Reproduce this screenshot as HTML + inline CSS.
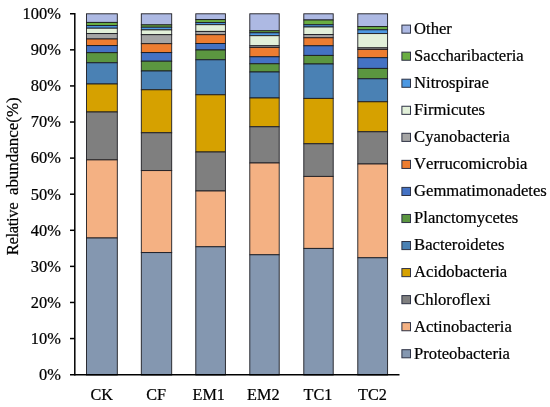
<!DOCTYPE html>
<html><head><meta charset="utf-8"><title>Relative abundance</title>
<style>
html,body{margin:0;padding:0;background:#fff;}
body{width:550px;height:407px;overflow:hidden;}
svg{display:block;}
text{font-family:"Liberation Serif",serif;fill:#000;stroke:#000;stroke-width:0.22px;font-kerning:none;}
.b rect{stroke:#1c1c22;stroke-width:0.9;}
.lg rect{stroke:#2e3244;stroke-width:1;}
.tk{font-size:16.4px;text-anchor:end;}
.xl{font-size:16.2px;text-anchor:middle;}
.lt{font-size:16.6px;}
</style></head><body>
<svg width="550" height="407" viewBox="0 0 550 407">
<rect width="550" height="407" fill="#fff"/>
<g class="b">
<rect x="86.50" y="13.80" width="30.80" height="8.60" fill="#ADB9E3"/>
<rect x="86.50" y="22.40" width="30.80" height="3.20" fill="#6AAE42"/>
<rect x="86.50" y="25.60" width="30.80" height="2.60" fill="#4C98E2"/>
<rect x="86.50" y="28.20" width="30.80" height="5.40" fill="#E2F0D9"/>
<rect x="86.50" y="33.60" width="30.80" height="5.40" fill="#A5A5A5"/>
<rect x="86.50" y="39.00" width="30.80" height="6.60" fill="#ED7D31"/>
<rect x="86.50" y="45.60" width="30.80" height="7.10" fill="#4472C4"/>
<rect x="86.50" y="52.70" width="30.80" height="10.10" fill="#5B9640"/>
<rect x="86.50" y="62.80" width="30.80" height="21.20" fill="#4A81B4"/>
<rect x="86.50" y="84.00" width="30.80" height="28.00" fill="#D6A100"/>
<rect x="86.50" y="112.00" width="30.80" height="47.90" fill="#7F7F7F"/>
<rect x="86.50" y="159.90" width="30.80" height="78.10" fill="#F4B183"/>
<rect x="86.50" y="238.00" width="30.80" height="137.00" fill="#8497B0"/>
<rect x="141.30" y="13.80" width="30.40" height="11.10" fill="#ADB9E3"/>
<rect x="141.30" y="24.90" width="30.40" height="2.30" fill="#6AAE42"/>
<rect x="141.30" y="27.20" width="30.40" height="2.70" fill="#4C98E2"/>
<rect x="141.30" y="29.90" width="30.40" height="4.80" fill="#E2F0D9"/>
<rect x="141.30" y="34.70" width="30.40" height="9.00" fill="#A5A5A5"/>
<rect x="141.30" y="43.70" width="30.40" height="8.90" fill="#ED7D31"/>
<rect x="141.30" y="52.60" width="30.40" height="8.60" fill="#4472C4"/>
<rect x="141.30" y="61.20" width="30.40" height="9.80" fill="#5B9640"/>
<rect x="141.30" y="71.00" width="30.40" height="18.80" fill="#4A81B4"/>
<rect x="141.30" y="89.80" width="30.40" height="43.00" fill="#D6A100"/>
<rect x="141.30" y="132.80" width="30.40" height="37.80" fill="#7F7F7F"/>
<rect x="141.30" y="170.60" width="30.40" height="82.00" fill="#F4B183"/>
<rect x="141.30" y="252.60" width="30.40" height="122.40" fill="#8497B0"/>
<rect x="195.80" y="13.80" width="29.60" height="5.80" fill="#ADB9E3"/>
<rect x="195.80" y="19.60" width="29.60" height="3.00" fill="#6AAE42"/>
<rect x="195.80" y="22.60" width="29.60" height="2.10" fill="#4C98E2"/>
<rect x="195.80" y="24.70" width="29.60" height="6.70" fill="#E2F0D9"/>
<rect x="195.80" y="31.40" width="29.60" height="3.30" fill="#A5A5A5"/>
<rect x="195.80" y="34.70" width="29.60" height="8.80" fill="#ED7D31"/>
<rect x="195.80" y="43.50" width="29.60" height="6.50" fill="#4472C4"/>
<rect x="195.80" y="50.00" width="29.60" height="9.80" fill="#5B9640"/>
<rect x="195.80" y="59.80" width="29.60" height="35.00" fill="#4A81B4"/>
<rect x="195.80" y="94.80" width="29.60" height="57.20" fill="#D6A100"/>
<rect x="195.80" y="152.00" width="29.60" height="39.00" fill="#7F7F7F"/>
<rect x="195.80" y="191.00" width="29.60" height="55.80" fill="#F4B183"/>
<rect x="195.80" y="246.80" width="29.60" height="128.20" fill="#8497B0"/>
<rect x="249.80" y="13.80" width="29.40" height="17.00" fill="#ADB9E3"/>
<rect x="249.80" y="30.80" width="29.40" height="2.00" fill="#6AAE42"/>
<rect x="249.80" y="32.80" width="29.40" height="2.90" fill="#4C98E2"/>
<rect x="249.80" y="35.70" width="29.40" height="10.10" fill="#E2F0D9"/>
<rect x="249.80" y="45.80" width="29.40" height="1.60" fill="#A5A5A5"/>
<rect x="249.80" y="47.40" width="29.40" height="9.40" fill="#ED7D31"/>
<rect x="249.80" y="56.80" width="29.40" height="7.00" fill="#4472C4"/>
<rect x="249.80" y="63.80" width="29.40" height="8.20" fill="#5B9640"/>
<rect x="249.80" y="72.00" width="29.40" height="26.00" fill="#4A81B4"/>
<rect x="249.80" y="98.00" width="29.40" height="28.80" fill="#D6A100"/>
<rect x="249.80" y="126.80" width="29.40" height="36.20" fill="#7F7F7F"/>
<rect x="249.80" y="163.00" width="29.40" height="91.80" fill="#F4B183"/>
<rect x="249.80" y="254.80" width="29.40" height="120.20" fill="#8497B0"/>
<rect x="303.80" y="13.80" width="29.40" height="6.20" fill="#ADB9E3"/>
<rect x="303.80" y="20.00" width="29.40" height="4.80" fill="#6AAE42"/>
<rect x="303.80" y="24.80" width="29.40" height="2.20" fill="#4C98E2"/>
<rect x="303.80" y="27.00" width="29.40" height="7.60" fill="#E2F0D9"/>
<rect x="303.80" y="34.60" width="29.40" height="3.20" fill="#A5A5A5"/>
<rect x="303.80" y="37.80" width="29.40" height="8.00" fill="#ED7D31"/>
<rect x="303.80" y="45.80" width="29.40" height="9.60" fill="#4472C4"/>
<rect x="303.80" y="55.40" width="29.40" height="8.60" fill="#5B9640"/>
<rect x="303.80" y="64.00" width="29.40" height="34.40" fill="#4A81B4"/>
<rect x="303.80" y="98.40" width="29.40" height="45.40" fill="#D6A100"/>
<rect x="303.80" y="143.80" width="29.40" height="32.60" fill="#7F7F7F"/>
<rect x="303.80" y="176.40" width="29.40" height="72.00" fill="#F4B183"/>
<rect x="303.80" y="248.40" width="29.40" height="126.60" fill="#8497B0"/>
<rect x="357.80" y="13.80" width="29.80" height="12.80" fill="#ADB9E3"/>
<rect x="357.80" y="26.60" width="29.80" height="3.20" fill="#6AAE42"/>
<rect x="357.80" y="29.80" width="29.80" height="3.80" fill="#4C98E2"/>
<rect x="357.80" y="33.60" width="29.80" height="14.30" fill="#E2F0D9"/>
<rect x="357.80" y="47.90" width="29.80" height="1.50" fill="#A5A5A5"/>
<rect x="357.80" y="49.40" width="29.80" height="8.30" fill="#ED7D31"/>
<rect x="357.80" y="57.70" width="29.80" height="10.70" fill="#4472C4"/>
<rect x="357.80" y="68.40" width="29.80" height="10.40" fill="#5B9640"/>
<rect x="357.80" y="78.80" width="29.80" height="23.00" fill="#4A81B4"/>
<rect x="357.80" y="101.80" width="29.80" height="30.00" fill="#D6A100"/>
<rect x="357.80" y="131.80" width="29.80" height="32.20" fill="#7F7F7F"/>
<rect x="357.80" y="164.00" width="29.80" height="93.80" fill="#F4B183"/>
<rect x="357.80" y="257.80" width="29.80" height="117.20" fill="#8497B0"/>
</g>
<g stroke="#000" stroke-width="1.5" fill="none">
<line x1="74.8" y1="12.9" x2="74.8" y2="375.4"/>
<line x1="70" y1="374.65" x2="399.5" y2="374.65"/>
<line x1="70" y1="338.56" x2="74.8" y2="338.56"/>
<line x1="70" y1="302.47" x2="74.8" y2="302.47"/>
<line x1="70" y1="266.38" x2="74.8" y2="266.38"/>
<line x1="70" y1="230.29" x2="74.8" y2="230.29"/>
<line x1="70" y1="194.20" x2="74.8" y2="194.20"/>
<line x1="70" y1="158.11" x2="74.8" y2="158.11"/>
<line x1="70" y1="122.02" x2="74.8" y2="122.02"/>
<line x1="70" y1="85.93" x2="74.8" y2="85.93"/>
<line x1="70" y1="49.84" x2="74.8" y2="49.84"/>
<line x1="70" y1="13.75" x2="74.8" y2="13.75"/>
</g>
<text class="tk" x="60.8" y="379.95">0%</text>
<text class="tk" x="60.8" y="343.86">10%</text>
<text class="tk" x="60.8" y="307.77">20%</text>
<text class="tk" x="60.8" y="271.68">30%</text>
<text class="tk" x="60.8" y="235.59">40%</text>
<text class="tk" x="60.8" y="199.50">50%</text>
<text class="tk" x="60.8" y="163.41">60%</text>
<text class="tk" x="60.8" y="127.32">70%</text>
<text class="tk" x="60.8" y="91.23">80%</text>
<text class="tk" x="60.8" y="55.14">90%</text>
<text class="tk" x="60.8" y="19.05">100%</text>
<text class="xl" x="101.8" y="399.5">CK</text>
<text class="xl" x="156.1" y="399.5">CF</text>
<text class="xl" x="208.7" y="399.5">EM1</text>
<text class="xl" x="263.3" y="399.5">EM2</text>
<text class="xl" x="318.0" y="399.5">TC1</text>
<text class="xl" x="372.5" y="399.5">TC2</text>
<text transform="translate(17.7,255.3) rotate(-90)" font-size="16.7px"><tspan letter-spacing="-0.37">Relative</tspan><tspan dx="3.3" font-size="16.95px"> abundance(%)</tspan></text>
<g class="lg">
<rect x="401.9" y="25.10" width="8.6" height="8.1" fill="#ADB9E3"/>
<text class="lt" x="414.1" y="34.00">Other</text>
<rect x="401.9" y="52.15" width="8.6" height="8.1" fill="#6AAE42"/>
<text class="lt" x="414.1" y="61.05">Saccharibacteria</text>
<rect x="401.9" y="79.20" width="8.6" height="8.1" fill="#4C98E2"/>
<text class="lt" x="414.1" y="88.10">Nitrospirae</text>
<rect x="401.9" y="106.25" width="8.6" height="8.1" fill="#E2F0D9"/>
<text class="lt" x="414.1" y="115.15">Firmicutes</text>
<rect x="401.9" y="133.30" width="8.6" height="8.1" fill="#A5A5A5"/>
<text class="lt" x="414.1" y="142.20">Cyanobacteria</text>
<rect x="401.9" y="160.35" width="8.6" height="8.1" fill="#ED7D31"/>
<text class="lt" x="414.1" y="169.25">Verrucomicrobia</text>
<rect x="401.9" y="187.40" width="8.6" height="8.1" fill="#4472C4"/>
<text class="lt" x="414.1" y="196.30">Gemmatimonadetes</text>
<rect x="401.9" y="214.45" width="8.6" height="8.1" fill="#5B9640"/>
<text class="lt" x="414.1" y="223.35">Planctomycetes</text>
<rect x="401.9" y="241.50" width="8.6" height="8.1" fill="#4A81B4"/>
<text class="lt" x="414.1" y="250.40">Bacteroidetes</text>
<rect x="401.9" y="268.55" width="8.6" height="8.1" fill="#D6A100"/>
<text class="lt" x="414.1" y="277.45">Acidobacteria</text>
<rect x="401.9" y="295.60" width="8.6" height="8.1" fill="#7F7F7F"/>
<text class="lt" x="414.1" y="304.50">Chloroflexi</text>
<rect x="401.9" y="322.65" width="8.6" height="8.1" fill="#F4B183"/>
<text class="lt" x="414.1" y="331.55">Actinobacteria</text>
<rect x="401.9" y="349.70" width="8.6" height="8.1" fill="#8497B0"/>
<text class="lt" x="414.1" y="358.60">Proteobacteria</text>
</g>
</svg></body></html>
